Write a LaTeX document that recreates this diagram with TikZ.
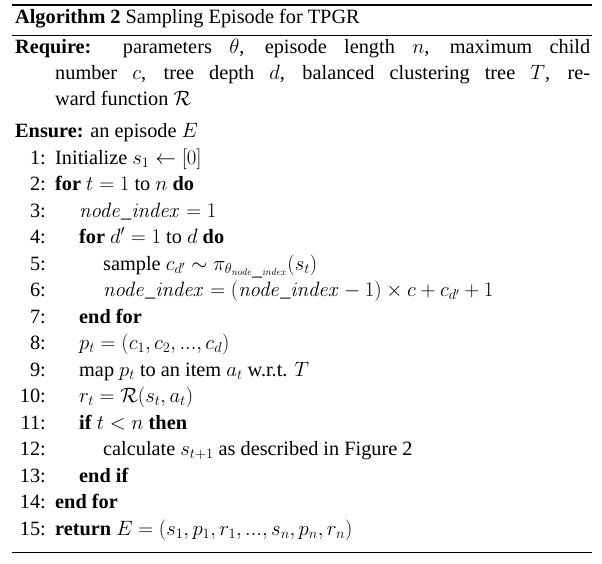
\documentclass[tikz,border=0pt]{standalone}
\usepackage[no-math]{fontspec}
\setmainfont{Liberation Serif}
\newcommand{\nidx}{\mathit{node\_index}}
\begin{document}
\begin{tikzpicture}[x=1pt,y=-1pt,
  tx/.style={anchor=base west,inner sep=0pt,font=\fontsize{20.3}{24}\selectfont},
  num/.style={anchor=base east,inner sep=0pt,font=\fontsize{20.3}{24}\selectfont}]
\useasboundingbox (0,0) rectangle (602,563);
\draw[line width=1.2pt] (12,5) -- (592,5);
\draw[line width=0.6pt] (12,35) -- (592,35);
\draw[line width=0.6pt] (12,552) -- (592,552);
\node[tx] (title) at (15,23) {\textbf{Algorithm 2} Sampling Episode for TPGR};
\node[tx] (r1) at (15,53) {\hbox to 575pt{\textbf{Require:} parameters $\theta$, episode length $n$, maximum child}};
\node[tx] (r2) at (55,79) {\hbox to 535pt{number $c$, tree depth $d$, balanced clustering tree $T$, re-}};
\node[tx] (r3) at (55,105) {ward function $\mathcal{R}$};
\node[tx] (en) at (15,137) {\textbf{Ensure:} an episode $E$};
\foreach \i/\ind/\t in {
 1/0/{Initialize $s_1\leftarrow[0]$},
 2/0/{\textbf{for} $t=1$ to $n$ \textbf{do}},
 3/1/{$\nidx=1$},
 4/1/{\textbf{for} $d'=1$ to $d$ \textbf{do}},
 5/2/{sample $c_{d'}\sim\pi_{\theta_{\nidx}}(s_t)$},
 6/2/{$\nidx=(\nidx-1)\times c+c_{d'}+1$},
 7/1/{\textbf{end for}},
 8/1/{$p_t=(c_1,c_2,...,c_d)$},
 9/1/{map $p_t$ to an item $a_t$ w.r.t. $T$},
 10/1/{$r_t=\mathcal{R}(s_t,a_t)$},
 11/1/{\textbf{if} $t<n$ \textbf{then}},
 12/2/{calculate $s_{t+1}$ as described in Figure 2},
 13/1/{\textbf{end if}},
 14/0/{\textbf{end for}},
 15/0/{\textbf{return} $E=(s_1,p_1,r_1,...,s_n,p_n,r_n)$}}{
 \node[num] (n\i) at (46,{164+26.5*(\i-1)}) {\i:};
 \node[tx] (l\i) at ({55+24*\ind},{164+26.5*(\i-1)}) {\t};
}
\end{tikzpicture}
\end{document}
